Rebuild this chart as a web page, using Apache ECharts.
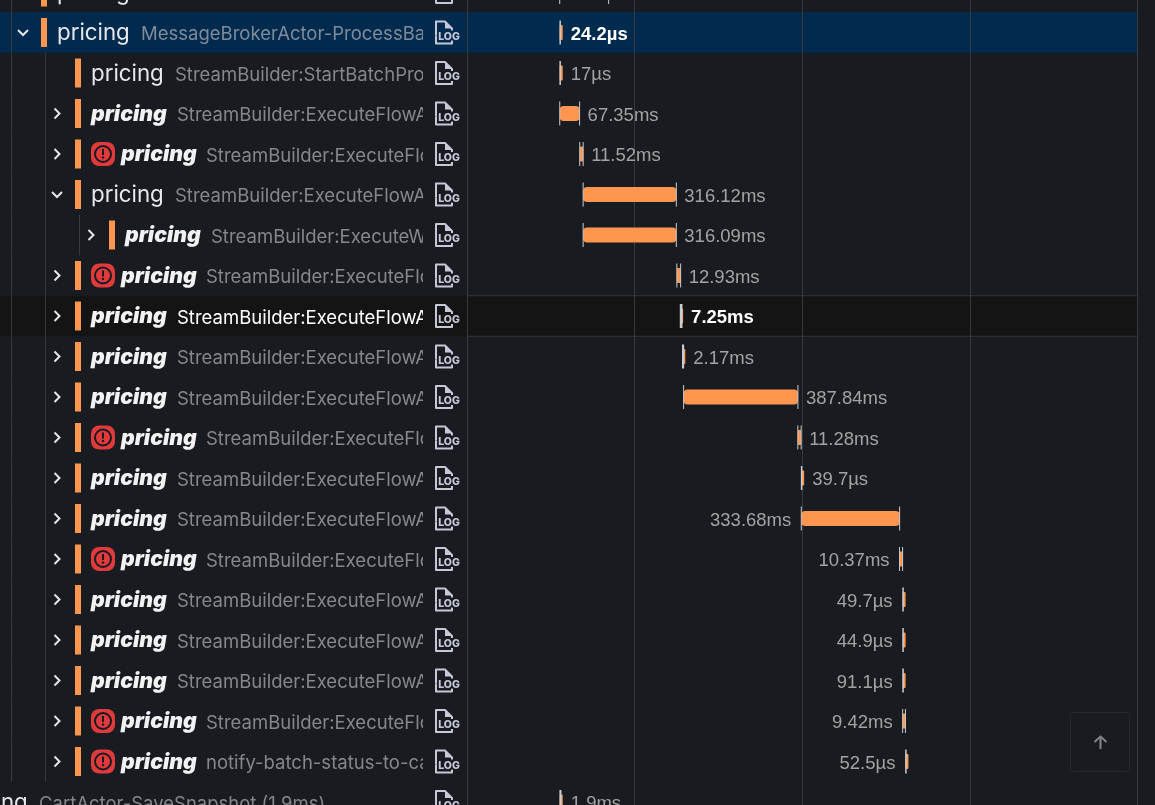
<!DOCTYPE html>
<html>
<head>
<meta charset="utf-8">
<script src="https://cdn.jsdelivr.net/npm/echarts@6/dist/echarts.min.js"></script>
<style>html,body{margin:0;padding:0;background:#181b20}#c{width:1155px;height:805px}</style>
</head>
<body>
<div id="c"></div>
<script>
// ---- data ----
const services = ['pricing','pricing','pricing','pricing','pricing','pricing','pricing','pricing','pricing','pricing','pricing','pricing','pricing','pricing','pricing','pricing','pricing','pricing','pricing','pricing','pricing'];
const operations = ['','MessageBrokerActor-ProcessBa','StreamBuilder:StartBatchPro','StreamBuilder:ExecuteFlowA','StreamBuilder:ExecuteFlo','StreamBuilder:ExecuteFlowA','StreamBuilder:ExecuteW','StreamBuilder:ExecuteFlo','StreamBuilder:ExecuteFlowA','StreamBuilder:ExecuteFlowA','StreamBuilder:ExecuteFlowA','StreamBuilder:ExecuteFlo','StreamBuilder:ExecuteFlowA','StreamBuilder:ExecuteFlowA','StreamBuilder:ExecuteFlo','StreamBuilder:ExecuteFlowA','StreamBuilder:ExecuteFlowA','StreamBuilder:ExecuteFlowA','StreamBuilder:ExecuteFlo','notify-batch-status-to-ca','CartActor-SaveSnapshot (1.9ms)'];
const depths = [1,1,2,2,2,2,3,2,2,2,2,2,2,2,2,2,2,2,2,2,-2];
const chevrons = ['none','open','none','closed','closed','open','closed','closed','closed','closed','closed','closed','closed','closed','closed','closed','closed','closed','closed','closed','none'];
const errors = [0,0,0,0,1,0,0,1,0,0,0,1,0,0,1,0,0,0,1,1,0];
const startsMs = [314.6,314.6,314.6,314.7,382.6,394.1,394.1,712,723,730.5,735,1122.5,1133.8,1134.2,1467.6,1478.0,1478.1,1478.1,1478.2,1487.7,314.6];
const durationsMs = [166,0.0242,0.017,67.35,11.52,316.12,316.09,12.93,7.25,2.17,387.84,11.28,0.0397,333.68,10.37,0.0497,0.0449,0.0911,9.42,0.0525,1.9];
const durationLabels = ['','24.2µs','17µs','67.35ms','11.52ms','316.12ms','316.09ms','12.93ms','7.25ms','2.17ms','387.84ms','11.28ms','39.7µs','333.68ms','10.37ms','49.7µs','44.9µs','91.1µs','9.42ms','52.5µs','1.9ms'];
const labelSides = ['r','r','r','r','r','r','r','r','r','r','r','r','r','l','l','l','l','l','l','l','r'];
const selectedRow = 1;
const hoverRow = 8;
const axisMaxMs = 2275;
const axisStepMs = 568.75;

// ---- styling ----
const BG='#181b20', SEL='#002a4e', HOV='#141414', ORANGE='#ff964f', TICK='#c9ccd0', GUIDE='#36393d', ICON='#c6c8d8';
const PANE_X=467, RIGHT_X=1138, CLIP_X=423;
const rows = services.map((s,i)=>[startsMs[i],i,durationsMs[i]]);

function renderBackground(p,api){
  const i=api.value(1), c=api.coord([0,i]), h=api.size([0,1])[1], t=c[1]-h/2, kids=[];
  if(i===selectedRow) kids.push({type:'rect',shape:{x:0,y:t,width:RIGHT_X,height:h},style:{fill:SEL}});
  if(i===hoverRow){
    kids.push({type:'rect',shape:{x:0,y:t,width:RIGHT_X,height:h},style:{fill:HOV}});
    kids.push({type:'line',shape:{x1:PANE_X,y1:t,x2:RIGHT_X,y2:t},style:{stroke:'#33363a',lineWidth:1}});
    kids.push({type:'line',shape:{x1:PANE_X,y1:t+h,x2:RIGHT_X,y2:t+h},style:{stroke:'#33363a',lineWidth:1}});
  }
  return {type:'group',children:kids};
}

function renderPane(p,api){
  const i=api.value(1), c=api.coord([0,i]), h=api.size([0,1])[1], cy=c[1], d=depths[i], kids=[];
  const rowBg = i===selectedRow?SEL:(i===hoverRow?HOV:BG);
  for(let k=0;k<d;k++){
    const gx=11.5+34*k;
    kids.push({type:'line',shape:{x1:gx,y1:cy-h/2,x2:gx,y2:cy+h/2},style:{stroke:GUIDE,lineWidth:1}});
  }
  const mx=7+34*d, tx=mx+16, chx=mx-18;
  kids.push({type:'rect',shape:{x:mx,y:cy-14.5,width:6,height:29},style:{fill:ORANGE}});
  if(chevrons[i]==='open') kids.push({type:'polyline',shape:{points:[[chx-5,cy-2.5],[chx,cy+2.5],[chx+5,cy-2.5]]},style:{stroke:'#e6e6e8',lineWidth:2,fill:'none'}});
  if(chevrons[i]==='closed') kids.push({type:'polyline',shape:{points:[[chx-2.5,cy-5],[chx+2.5,cy],[chx-2.5,cy+5]]},style:{stroke:'#e6e6e8',lineWidth:2,fill:'none'}});
  const collapsed=chevrons[i]==='closed';
  let sx=tx;
  if(errors[i]){
    kids.push({type:'rect',shape:{x:tx,y:cy-12,width:24,height:24,r:8},style:{fill:'#e03a3d'}});
    kids.push({type:'circle',shape:{cx:tx+12,cy:cy,r:8},style:{fill:'none',stroke:'#181b20',lineWidth:2}});
    kids.push({type:'rect',shape:{x:tx+11,y:cy-5,width:2,height:6},style:{fill:'#181b20'}});
    kids.push({type:'circle',shape:{cx:tx+12,cy:cy+3.5,r:1.2},style:{fill:'#181b20'}});
    sx=tx+30;
  }
  const svc={type:'text',style:{x:sx,y:cy+1,text:services[i],verticalAlign:'middle',align:'left',fill:collapsed?'#f2f2f4':'#e8e8ea',
    font:(collapsed?'italic 900 21.2px':'400 22.3px')+' Inter'}};
  kids.push(svc);
  const nx=errors[i]?tx+115:(collapsed?tx+86:tx+84);
  const nameFill=i===hoverRow?'#ffffff':(i===selectedRow?'#7f8b99':'#84878b');
  const clip=i===operations.length-1?null:{type:'rect',shape:{x:0,y:cy-h/2,width:CLIP_X,height:h}};
  const name={type:'text',style:{x:nx,y:cy+2,text:operations[i],verticalAlign:'middle',align:'left',fill:nameFill,font:'400 18.5px Inter'}};
  if(clip) name.clipPath=clip;
  kids.push(name);
  // log icon
  kids.push({type:'polyline',shape:{points:[[436,cy+3],[436,cy-11],[445,cy-11],[452,cy-4],[452,cy-2]]},style:{stroke:ICON,lineWidth:2,fill:'none',lineJoin:'round'}});
  kids.push({type:'polyline',shape:{points:[[436,cy+3],[436,cy+11],[452,cy+11],[452,cy+8]]},style:{stroke:ICON,lineWidth:2,fill:'none',lineJoin:'round'}});
  kids.push({type:'polygon',shape:{points:[[445,cy-11],[452,cy-4],[445,cy-4]]},style:{fill:ICON}});
  kids.push({type:'text',style:{x:449,y:cy+4,text:'LOG',align:'center',verticalAlign:'middle',fill:ICON,font:'800 10.5px Inter',stroke:rowBg,lineWidth:3}});
  return {type:'group',children:kids};
}

function renderBar(p,api){
  const i=api.value(1), a=api.coord([api.value(0),i]), b=api.coord([api.value(0)+api.value(2),i]), cy=a[1];
  const span=b[0]-a[0], w=Math.max(3,span), kids=[];
  kids.push({type:'rect',shape:{x:a[0],y:cy-7.5,width:w,height:15,r:w>8?4:1},style:{fill:ORANGE}});
  if(span<2.6){
    const lw=Math.min(2.7,1.5+span);
    kids.push({type:'line',shape:{x1:a[0]+lw/2-0.3,y1:cy-12,x2:a[0]+lw/2-0.3,y2:cy+12},style:{stroke:TICK,lineWidth:lw}});
  }else{
    kids.push({type:'line',shape:{x1:a[0],y1:cy-12,x2:a[0],y2:cy+12},style:{stroke:TICK,lineWidth:1}});
    kids.push({type:'line',shape:{x1:b[0],y1:cy-12,x2:b[0],y2:cy+12},style:{stroke:TICK,lineWidth:1}});
  }
  const strong=i===selectedRow||i===hoverRow;
  const left=labelSides[i]==='l';
  kids.push({type:'text',style:{x:left?a[0]-10:a[0]+w+8,y:cy+2,text:durationLabels[i],align:left?'right':'left',verticalAlign:'middle',
    fill:strong?'#ffffff':'#a3a3a3',font:(strong?'700':'400')+' 18.5px "Liberation Sans"'}});
  return {type:'group',children:kids};
}

const chart=echarts.init(document.getElementById('c'),null,{renderer:'canvas'});
chart.setOption({
  animation:false,
  backgroundColor:BG,
  grid:{left:PANE_X,width:670.5,top:-28.25,height:850.5,containLabel:false,outerBoundsMode:'none'},
  xAxis:{type:'value',min:0,max:axisMaxMs,interval:axisStepMs,z:3,
    axisLabel:{show:false},axisTick:{show:false},axisLine:{show:false},
    splitLine:{show:true,showMinLine:true,showMaxLine:true,lineStyle:{color:'#36393d',width:1}}},
  yAxis:{type:'category',inverse:true,data:services.map((s,i)=>String(i)),
    axisLabel:{show:false},axisTick:{show:false},axisLine:{show:false},splitLine:{show:false}},
  series:[
    {type:'custom',name:'rows',z:2,clip:false,silent:true,renderItem:renderBackground,encode:{x:0,y:1},data:rows},
    {type:'custom',name:'pane',z:4,clip:false,silent:true,renderItem:renderPane,encode:{x:0,y:1},data:rows},
    {type:'custom',name:'spans',z:4,clip:false,silent:true,renderItem:renderBar,encode:{x:0,y:1},data:rows}
  ],
  graphic:[
    {type:'rect',shape:{x:1070.5,y:712.5,width:59,height:59,r:3},style:{fill:'none',stroke:'#26292e',lineWidth:1},z:10},
    {type:'polyline',shape:{points:[[1094.5,742],[1100.5,736.5],[1106.5,742]]},style:{fill:'none',stroke:'#84848f',lineWidth:2},z:10},
    {type:'line',shape:{x1:1100.5,y1:737,x2:1100.5,y2:749},style:{stroke:'#84848f',lineWidth:2},z:10}
  ]
});
</script>
</body>
</html>
